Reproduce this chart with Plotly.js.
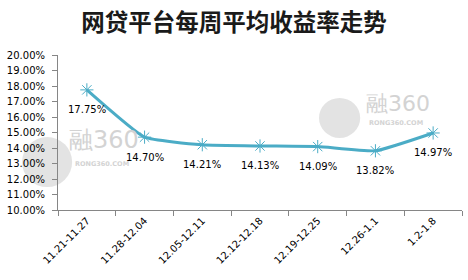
<!DOCTYPE html>
<html><head><meta charset="utf-8">
<script src="https://cdn.plot.ly/plotly-3.0.1.min.js"></script>
<style>html,body{margin:0;padding:0;background:#fff}#c{width:468px;height:280px}</style>
</head><body><div id="c"></div>
<script>
const categories = ["11.21-11.27","11.28-12.04","12.05-12.11","12.12-12.18","12.19-12.25","12.26-1.1","1.2-1.8"];
const values = [17.75, 14.70, 14.21, 14.13, 14.09, 13.82, 14.97];
const yTicks = [10,11,12,13,14,15,16,17,18,19,20];
const titleText = "网贷平台每周平均收益率走势";

const lineColor = "#4bacc6";
const font = {family: "DejaVu Sans, Verdana, sans-serif", size: 10, color: "#000"};

const trace = {
  x: categories, y: values, type: "scatter", mode: "lines+markers",
  line: {color: lineColor, width: 3, shape: "spline", smoothing: 0.4},
  marker: {symbol: "asterisk-open", size: 11, color: lineColor, line: {color: lineColor, width: 1}},
  cliponaxis: false, hoverinfo: "none"
};

const wm = "#d3d3d3";
const labelAnns = categories.map((c, i) => ({
  x: c, y: values[i], xref: "x", yref: "y", text: values[i].toFixed(2) + "%",
  showarrow: false, yshift: -20, font: font, xanchor: "center", yanchor: "middle"
}));
const wmAnns = [
  {xref: "paper", yref: "paper", x: 0.022, y: 0.45, xanchor: "left", yanchor: "middle",
    text: "融360", showarrow: false, font: {family: "DejaVu Sans", size: 24, color: wm}},
  {xref: "paper", yref: "paper", x: 0.037, y: 0.30, xanchor: "left", yanchor: "middle",
    text: "RONG360.COM", showarrow: false, font: {family: "DejaVu Sans", size: 6.5, color: wm, weight: 700}},
  {xref: "paper", yref: "paper", x: 0.758, y: 0.69, xanchor: "left", yanchor: "middle",
    text: "融360", showarrow: false, font: {family: "DejaVu Sans", size: 22, color: wm}},
  {xref: "paper", yref: "paper", x: 0.765, y: 0.56, xanchor: "left", yanchor: "middle",
    text: "RONG360.COM", showarrow: false, font: {family: "DejaVu Sans", size: 6.5, color: wm, weight: 700}}
];

const layout = {
  width: 468, height: 280,
  margin: {l: 58, r: 6, t: 55, b: 70},
  paper_bgcolor: "#fff", plot_bgcolor: "rgba(0,0,0,0)",
  showlegend: false,
  title: {text: titleText, x: 0.5, xanchor: "center", y: 0.92, yanchor: "middle",
    font: {family: "Noto Sans CJK SC", size: 23.5, color: "#1a1a1a", weight: 700}},
  xaxis: {type: "category", range: [-0.5, 6.5], tickangle: -45, tickfont: font,
    showgrid: false, zeroline: false, showline: true, linecolor: "#868686", linewidth: 1,
    ticks: "outside", ticklen: 5, tickcolor: "#868686", tickson: "boundaries", fixedrange: true},
  yaxis: {range: [10, 20], tickvals: yTicks, ticktext: yTicks.map(v => v.toFixed(2) + "%"),
    tickfont: font, showgrid: false, zeroline: false, showline: true, linecolor: "#868686",
    linewidth: 1, ticks: "outside", ticklen: 5, tickcolor: "#868686", ticklabelstandoff: 5,
    fixedrange: true},
  shapes: [
    {type: "circle", xref: "paper", yref: "paper", x0: -0.089, x1: 0.035, y0: 0.148, y1: 0.471,
      fillcolor: "#dcdcdc", line: {width: 0}, layer: "below", opacity: 0.8},
    {type: "circle", xref: "paper", yref: "paper", x0: 0.646, x1: 0.748, y0: 0.465, y1: 0.723,
      fillcolor: "#dcdcdc", line: {width: 0}, layer: "below", opacity: 0.8}
  ],
  annotations: wmAnns.concat(labelAnns)
};
Plotly.newPlot("c", [trace], layout, {staticPlot: true, displayModeBar: false});
</script></body></html>
